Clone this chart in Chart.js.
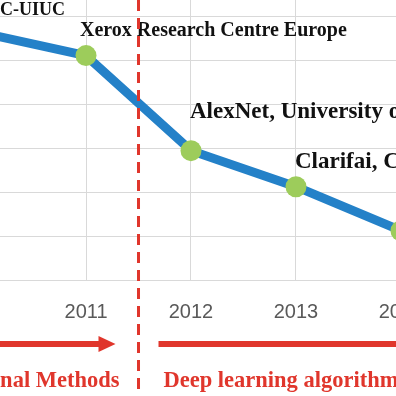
<!DOCTYPE html>
<html>
<head>
<meta charset="utf-8">
<script src="https://cdn.jsdelivr.net/npm/chart.js@4"></script>
<style>
  html, body { margin: 0; padding: 0; width: 396px; height: 396px; overflow: hidden; background: #fff; }
  #wrap { position: absolute; left: -30px; top: -28px; width: 440px; height: 424px; }
</style>
</head>
<body>
<div id="wrap"><canvas id="myChart" width="440" height="424"></canvas></div>
<script>
// ILSVRC top-5 error by year
let years = [2010, 2011, 2012, 2013, 2014];
let errorRate = [28.1, 25.5, 14.7, 10.6, 5.6];
let winners = ["NEC-UIUC", "Xerox Research Centre Europe", "AlexNet, University of Toronto", "Clarifai, Clarifai", "GoogLeNet, Google"];
let tickYears = [2011, 2012, 2013, 2014];
let eraLabels = ["Traditional Methods", "Deep learning algorithms"];
let eraSplit = 2011.5;

// label offsets from the point and font sizes (style only)
let labelDx = [-6, -6, -1, -1, -1];
let labelDy = [-18, -20, -33, -19, -19];
let labelSize = [18, 20, 23, 23, 23];

const RED = "#e0362c";

const annotate = {
	id: "annotate",
	afterDatasetsDraw(chart){
		const ctx = chart.ctx;
		const xs = chart.scales.x, ys = chart.scales.y;
		const area = chart.chartArea;

		// winner labels
		ctx.save();
		ctx.fillStyle = "#111";
		ctx.textAlign = "left";
		ctx.textBaseline = "alphabetic";
		for(i = 0; i < years.length; i++){
			let px = xs.getPixelForValue(years[i]);
			let py = ys.getPixelForValue(errorRate[i]);
			ctx.font = "bold " + labelSize[i] + "px 'Liberation Serif', 'Times New Roman', serif";
			ctx.fillText(winners[i], px + labelDx[i], py + labelDy[i]);
		}
		ctx.restore();

		// dashed divider
		let dx = xs.getPixelForValue(eraSplit);
		ctx.save();
		ctx.strokeStyle = RED;
		ctx.lineWidth = 3;
		ctx.setLineDash([11, 7]);
		ctx.beginPath();
		ctx.moveTo(dx, 28);
		ctx.lineTo(dx, chart.height);
		ctx.stroke();
		ctx.restore();

		// arrows
		let ay = area.bottom + 64;
		ctx.save();
		ctx.fillStyle = RED;
		ctx.fillRect(0, ay - 3, dx - 39, 6);
		ctx.beginPath();
		ctx.moveTo(dx - 40, ay - 8);
		ctx.lineTo(dx - 23, ay);
		ctx.lineTo(dx - 40, ay + 8);
		ctx.closePath();
		ctx.fill();
		ctx.fillRect(dx + 20, ay - 3, chart.width - dx - 20, 6);

		// era text
		ctx.font = "bold 22.5px 'Liberation Serif', 'Times New Roman', serif";
		ctx.textBaseline = "alphabetic";
		ctx.textAlign = "right";
		ctx.fillText(eraLabels[0], dx - 19, area.bottom + 107);
		ctx.textAlign = "left";
		ctx.fillText(eraLabels[1], dx + 25, area.bottom + 107);
		ctx.restore();
	}
};

let myChart = document.getElementById("myChart").getContext("2d");
new Chart(myChart, {
	type: "line",
	data: {
		datasets: [{
			label: "Error",
			data: years.map((y, i) => ({x: y, y: errorRate[i]})),
			borderColor: "#2481c8",
			borderWidth: 9,
			backgroundColor: "#9dcc5b",
			pointBackgroundColor: "#9dcc5b",
			pointBorderWidth: 0,
			pointRadius: 10.5,
			tension: 0,
			clip: false
		}]
	},
	options: {
		responsive: false,
		animation: false,
		devicePixelRatio: 1,
		layout: { padding: 0, autoPadding: false },
		plugins: { legend: { display: false }, tooltip: { enabled: false } },
		scales: {
			x: {
				type: "linear",
				min: 2009.895,
				max: 2014.086,
				afterBuildTicks: (scale) => { scale.ticks = tickYears.map(v => ({value: v})); },
				afterFit: (scale) => {
					scale.height = 116;
					scale.paddingLeft = 0;
					scale.paddingRight = 0;
				},
				grid: { color: "#d9d9d9", drawTicks: false },
				border: { color: "#d9d9d9" },
				ticks: {
					color: "#595959",
					font: { family: "'Liberation Sans', Arial, sans-serif", size: 20 },
					padding: 20,
					maxRotation: 0,
					callback: (v) => String(v)
				}
			},
			y: {
				min: 0,
				max: 35,
				afterFit: (scale) => {
					scale.width = 0;
					scale.paddingTop = 0;
					scale.paddingBottom = 0;
				},
				grid: { color: "#d9d9d9", drawTicks: false },
				border: { display: false },
				ticks: { display: false, stepSize: 5 }
			}
		}
	},
	plugins: [annotate]
});
</script>
</body>
</html>
